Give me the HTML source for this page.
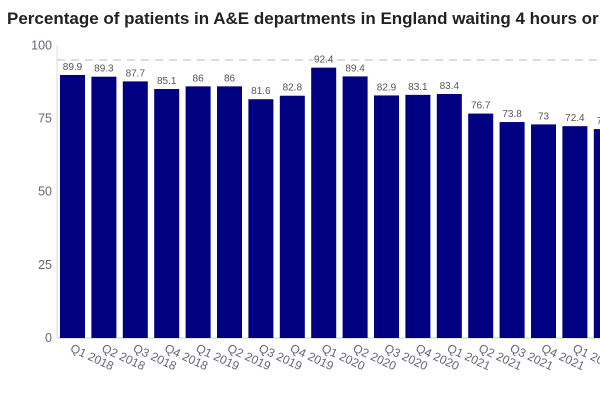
<!DOCTYPE html>
<html><head><meta charset="utf-8"><style>
body{margin:0;width:600px;height:400px;overflow:hidden;background:#fff;font-family:"Liberation Sans",Arial,sans-serif}
</style></head><body>
<svg id="chart" width="600" height="400" xmlns="http://www.w3.org/2000/svg">
<text x="7" y="24" font-size="17" font-weight="bold" fill="#222">Percentage of patients in A&amp;E departments in England waiting 4 hours or less</text>
<g id="axes"></g><g id="bars"></g><g id="labels"></g>
</svg>
<script>
const categories=["Q1 2018","Q2 2018","Q3 2018","Q4 2018","Q1 2019","Q2 2019","Q3 2019","Q4 2019","Q1 2020","Q2 2020","Q3 2020","Q4 2020","Q1 2021","Q2 2021","Q3 2021","Q4 2021","Q1 2022","Q2 2022"];
const values=[89.9,89.3,87.7,85.1,86,86,81.6,82.8,92.4,89.4,82.9,83.1,83.4,76.7,73.8,73,72.4,71.4];
const yTicks=[0,25,50,75,100];
const target=[95];
const NS="http://www.w3.org/2000/svg";
const y0=338,yh=292.6,x0=60,step=31.4,bw=25;
const Y=v=>y0-v/100*yh, X=i=>x0+i*step;
function mk(t,a,p){const e=document.createElementNS(NS,t);for(const k in a)e.setAttribute(k,a[k]);p.appendChild(e);return e;}
const axes=document.getElementById('axes'),bars=document.getElementById('bars'),labels=document.getElementById('labels');
const ya=mk('line',{x1:57,x2:57,y1:Y(100),y2:y0,stroke:'#ddd'},axes);


const xa=mk('line',{x1:57,x2:600,y1:y0,y2:y0,stroke:'#ccc'},axes);


target.forEach(t=>{const l=mk('line',{x1:57,x2:600,y1:Y(t),y2:Y(t),stroke:'#bbb','stroke-dasharray':'8,6'},axes);

});
yTicks.forEach(t=>{const e=mk('text',{x:52,y:Y(t)+4,'text-anchor':'end','font-size':12.5,fill:'#667'},axes);e.textContent=t;

});
values.forEach((v,i)=>{
const r=mk('rect',{x:X(i),y:Y(v),width:bw,height:y0-Y(v),fill:'#000080'},bars);


const t=mk('text',{x:X(i)+bw/2,y:Y(v)-5,'text-anchor':'middle','font-size':10,fill:'#555'},labels);t.textContent=v;


const lx=X(i)+bw/2-3, ly=y0+13;
const c=mk('text',{x:lx,y:ly,'font-size':12,fill:'#667',transform:`rotate(25 ${lx} ${ly})`},labels);c.textContent=categories[i];


});
</script>
</body></html>
